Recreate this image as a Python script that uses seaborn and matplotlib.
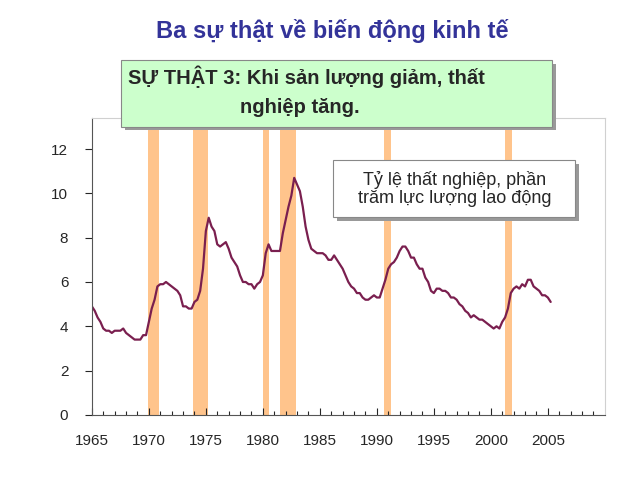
import numpy as np
import pandas as pd
import matplotlib
matplotlib.use("Agg")
from matplotlib import pyplot as plt
from matplotlib.patches import FancyBboxPatch
import seaborn as sns

sns.set_style("white")
plt.rcParams['font.family'] = ['Liberation Sans', 'DejaVu Sans']

# quarterly unemployment rate, 1965Q1 .. 2005Q2
rate = [4.9,4.7,4.4,4.2, 3.9,3.8,3.8,3.7, 3.8,3.8,3.8,3.9, 3.7,3.6,3.5,3.4,
        3.4,3.4,3.6,3.6, 4.2,4.8,5.2,5.8, 5.9,5.9,6.0,5.9, 5.8,5.7,5.6,5.4,
        4.9,4.9,4.8,4.8, 5.1,5.2,5.6,6.6, 8.3,8.9,8.5,8.3, 7.7,7.6,7.7,7.8,
        7.5,7.1,6.9,6.7, 6.3,6.0,6.0,5.9, 5.9,5.7,5.9,6.0, 6.3,7.3,7.7,7.4,
        7.4,7.4,7.4,8.2, 8.8,9.4,9.9,10.7, 10.4,10.1,9.4,8.5, 7.9,7.5,7.4,7.3,
        7.3,7.3,7.2,7.0, 7.0,7.2,7.0,6.8, 6.6,6.3,6.0,5.8, 5.7,5.5,5.5,5.3,
        5.2,5.2,5.3,5.4, 5.3,5.3,5.7,6.1, 6.6,6.8,6.9,7.1, 7.4,7.6,7.6,7.4,
        7.1,7.1,6.8,6.6, 6.6,6.2,6.0,5.6, 5.5,5.7,5.7,5.6, 5.6,5.5,5.3,5.3,
        5.2,5.0,4.9,4.7, 4.6,4.4,4.5,4.4, 4.3,4.3,4.2,4.1, 4.0,3.9,4.0,3.9,
        4.2,4.4,4.8,5.5, 5.7,5.8,5.7,5.9, 5.8,6.1,6.1,5.8, 5.7,5.6,5.4,5.4,
        5.3,5.1]
years = 1965 + np.arange(len(rate)) * 0.25
rec_start = [1969.9, 1973.9, 1980.0, 1981.5, 1990.6, 2001.2]
rec_end = [1970.9, 1975.2, 1980.5, 1982.9, 1991.2, 2001.9]

df = pd.DataFrame({"year": years, "rate": rate})

fig = plt.figure(figsize=(6.38, 4.78), dpi=100)
ax = fig.add_axes([0.144, 0.132, 0.804, 0.621])
for s, e in zip(rec_start, rec_end):
    ax.axvspan(s, e, color="#ffc48c", lw=0, zorder=0)
sns.lineplot(data=df, x="year", y="rate", color="#7a1f4f", lw=1.6, ax=ax)
ax.set_xlim(1965, 2010)
ax.set_ylim(0, 13.4)
ax.set_xticks(range(1965, 2006, 5))
ax.set_xticks(range(1965, 2010), minor=True)
ax.set_yticks(range(0, 13, 2))
ax.tick_params(axis="both", labelsize=11, direction="in", length=5, width=0.8, bottom=True, left=True)
ax.tick_params(axis="x", which="minor", direction="in", length=3, width=0.8, bottom=True)
ax.tick_params(axis="x", pad=14)
ax.tick_params(axis="y", direction="out", pad=12)
ax.set_xlabel("")
ax.set_ylabel("")
for side in ["top", "right"]:
    ax.spines[side].set_color("#d0d0d0")
for side in ["left", "bottom"]:
    ax.spines[side].set_color("#555555")

fig.text(0.52, 0.935, "Ba sự thật về biến động kinh tế", ha="center", va="center",
         fontsize=17, fontweight="bold", color="#333399")

def box(x0, y0, w, h, fc):
    sh = FancyBboxPatch((x0 + 0.006, y0 - 0.008), w, h, boxstyle="square,pad=0",
                        transform=fig.transFigure, fc="#999999", ec="none")
    b = FancyBboxPatch((x0, y0), w, h, boxstyle="square,pad=0",
                       transform=fig.transFigure, fc=fc, ec="#888888", lw=0.8)
    fig.patches.extend([sh, b])

box(0.19, 0.735, 0.675, 0.14, "#ccffcc")
fig.text(0.2, 0.84, "SỰ THẬT 3: Khi sản lượng giảm, thất", fontsize=14.5,
         fontweight="bold", va="center")
fig.text(0.47, 0.775, "nghiệp tăng.", fontsize=14.5, fontweight="bold",
         va="center", ha="center")

box(0.522, 0.545, 0.38, 0.12, "white")
fig.text(0.712, 0.605, "Tỷ lệ thất nghiệp, phần\ntrăm lực lượng lao động",
         fontsize=13, ha="center", va="center", linespacing=1.1)

fig.savefig("out.png", dpi=100)
